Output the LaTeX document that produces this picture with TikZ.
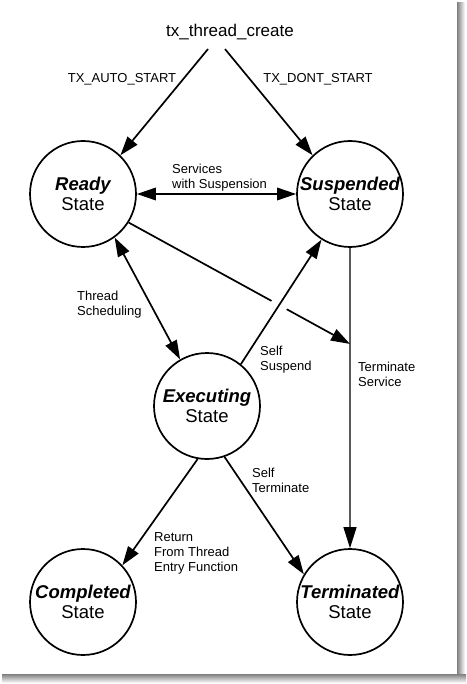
\documentclass[tikz,border=0pt]{standalone}
\usepackage{fontspec}
\setmainfont{Liberation Sans}
\usetikzlibrary{positioning,arrows.meta,calc}
\tikzset{
  state/.style={circle, draw, line width=1.7pt, minimum size=106pt, inner sep=0pt,
                align=center, font=\fontsize{18.5}{20}\selectfont},
  call/.style={font=\fontsize{17}{19}\selectfont, inner sep=2pt},
  lbl/.style={font=\fontsize{13}{15}\selectfont, align=left, inner sep=0pt, anchor=west},
  flow/.style={-{Triangle[length=19pt, width=12.5pt]}, line width=1.7pt},
  flowb/.style={{Triangle[length=19pt, width=12.5pt]}-{Triangle[length=19pt, width=12.5pt]},
                line width=1.7pt},
  flowt/.style={-{Triangle[length=21pt, width=13pt, color=black]}, line width=1.2pt, black!65},
}
\newcommand{\statename}[1]{{\bfseries\itshape #1}\\State}

\begin{document}
\begin{tikzpicture}[x=1pt, y=-1pt, on grid]
  % page with its shadow
  \useasboundingbox (0,0) rectangle (466,684);
  \fill[left color=black!50, right color=white] (457,3) rectangle (465,684);
  \fill[top color=black!50, bottom color=white] (2,674) rectangle (466,683);
  \fill[white] (0,0) rectangle (457,674);

  % states
  \node[call] (create) at (230,32) {tx\_thread\_create};
  \node[state] (ready) at (83,194) {\statename{Ready}};
  \node[state, right=267pt of ready] (susp) {\statename{Suspended}};
  \node[state, below right=212pt and 124pt of ready] (exec) {\statename{Executing}};
  \node[state, below=408pt of ready] (compl) {\statename{Completed}};
  \node[state, below=408pt of susp] (term) {\statename{Terminated}};
  \coordinate (tj) at ($(susp.south)!0.32!(term.north)$);

  % transitions
  \draw[flow] ([xshift=-22pt, yshift=-7pt]create.south) -- (ready.46);
  \draw[flow] ([xshift=-5pt, yshift=-7pt]create.south) -- (susp.134);
  \draw[flowb] (ready) -- (susp);
  \draw[flowb] (ready.306) -- (exec.120);
  \draw[flowt] (susp) -- (term);
  \draw[flow] (ready.328) -- (tj);
  \draw[white, line width=17pt] ($(exec.51)!0.40!(susp.238)$) -- ($(exec.51)!0.52!(susp.238)$);
  \draw[flow] (exec.51) -- (susp.238);
  \draw[flow] (exec.260) -- (compl.43);
  \draw[flow] (exec.289) -- (term.149);

  % labels
  \node[lbl, anchor=center] (auto) at (122,79) {TX\_AUTO\_START};
  \node[lbl, anchor=center] (dont) at (318,79) {TX\_DONT\_START};
  \node[lbl] (svc) at (172,178) {Services\\with Suspension};
  \node[lbl] (sched) at (77,305) {Thread\\Scheduling};
  \node[lbl] (ssusp) at (260,360) {Self\\Suspend};
  \node[lbl] (tsvc) at (358,374.5) {Terminate\\Service};
  \node[lbl] (sterm) at (252,480.5) {Self\\Terminate};
  \node[lbl] (ret) at (154,553) {Return\\From Thread\\Entry Function};
\end{tikzpicture}
\end{document}
